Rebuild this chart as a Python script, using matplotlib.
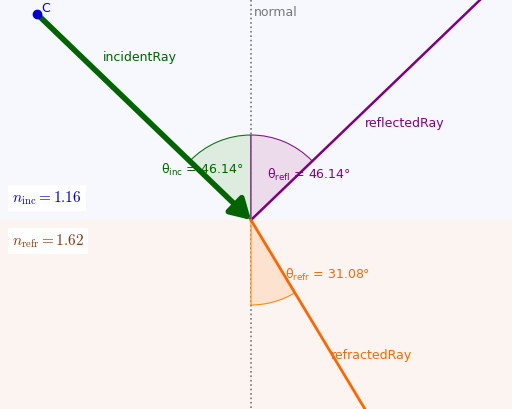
import numpy as np
import matplotlib
matplotlib.use("Agg")
import matplotlib.pyplot as plt
from matplotlib.patches import Wedge, FancyArrowPatch

n_inc = 1.16
n_refr = 1.62
theta_inc = 46.14
theta_refl = 46.14
theta_refr = 31.08

W, H = 512, 409
O = (251, 220)
C = (37, 14)

fig = plt.figure(figsize=(W/100, H/100), dpi=100)
ax = fig.add_axes([0, 0, 1, 1])
ax.set_xlim(0, W); ax.set_ylim(H, 0); ax.axis('off')

ax.fill_between([0, W], 0, O[1], color='#f6f8fd', zorder=0)
ax.fill_between([0, W], O[1], H, color='#fbf4f0', zorder=0)
ax.plot([O[0], O[0]], [0, H], ls=':', color='#777777', lw=1.2, zorder=1)
ax.text(O[0]+3, 12, 'normal', color='#777777', fontsize=9, va='center')

r1 = 85
ax.add_patch(Wedge(O, r1, -90-theta_inc, -90, facecolor='#dcebdc', edgecolor='#006400', lw=0.8, alpha=0.9, zorder=2))
ax.add_patch(Wedge(O, r1, -90, -90+theta_refl, facecolor='#ead8ea', edgecolor='#800080', lw=0.8, alpha=0.9, zorder=2))
ax.add_patch(Wedge(O, 85, 90-theta_refr, 90, facecolor='#fde0cc', edgecolor='#ff7f00', lw=0.8, alpha=0.9, zorder=2))

ax.add_patch(FancyArrowPatch(C, O, arrowstyle='-|>,head_length=12,head_width=7', color='#006400', lw=4, shrinkA=0, shrinkB=0, zorder=4))
ax.plot(*C, 'o', color='#0000cc', ms=6, zorder=5)
ax.text(C[0]+4, 8, 'C', color='#0000cc', fontsize=9, va='center')
ax.text(140, 57, 'incidentRay', color='#006400', fontsize=9, ha='center', va='center')

L = 330
t = np.radians(theta_refl)
ax.plot([O[0], O[0]+L*np.sin(t)], [O[1], O[1]-L*np.cos(t)], color='#800080', lw=1.8, zorder=3)
ax.text(405, 123, 'reflectedRay', color='#800080', fontsize=9, ha='center', va='center')

t = np.radians(theta_refr)
ax.plot([O[0], O[0]+L*np.sin(t)], [O[1], O[1]+L*np.cos(t)], color='#ff6600', lw=2, zorder=3)
ax.text(372, 355, 'refractedRay', color='#ff6600', fontsize=9, ha='center', va='center')

ax.text(161, 170, r'$\mathregular{\theta_{inc}}$ = %.2f°' % theta_inc, color='#006400', fontsize=9, va='center', zorder=6)
ax.text(267, 175, r'$\mathregular{\theta_{refl}}$ = %.2f°' % theta_refl, color='#800080', fontsize=9, va='center', zorder=6)
ax.text(285, 275, r'$\mathregular{\theta_{refr}}$ = %.2f°' % theta_refr, color='#ff6600', fontsize=9, va='center', zorder=6)

box = dict(facecolor='white', edgecolor='none', pad=3)
ax.text(12, 198, r'$n_{\rm inc} = %.2f$' % n_inc, color='#0000cc', fontsize=11, va='center', bbox=box, math_fontfamily='cm')
ax.text(12, 241, r'$n_{\rm refr} = %.2f$' % n_refr, color='#8b3a0f', fontsize=11, va='center', bbox=box, math_fontfamily='cm')

fig.savefig('out.png', dpi=100)
